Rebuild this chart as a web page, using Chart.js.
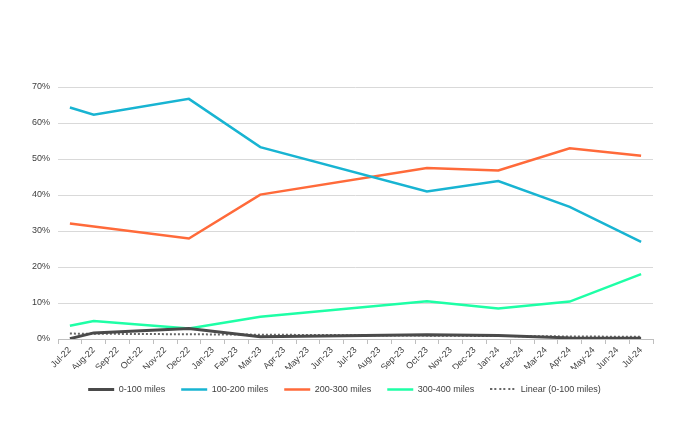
<!DOCTYPE html>
<html>
<head>
<meta charset="utf-8">
<script src="https://cdn.jsdelivr.net/npm/chart.js@4"></script>
<style>
  html, body { margin: 0; padding: 0; background: #ffffff; }
  #wrap { width: 686px; height: 435px; position: relative; }
</style>
</head>
<body>
<div id="wrap"><canvas id="c" width="686" height="435"></canvas></div>
<script>
const months = ["Jul-22","Aug-22","Sep-22","Oct-22","Nov-22","Dec-22","Jan-23","Feb-23","Mar-23","Apr-23","May-23","Jun-23","Jul-23","Aug-23","Sep-23","Oct-23","Nov-23","Dec-23","Jan-24","Feb-24","Mar-24","Apr-24","May-24","Jun-24","Jul-24"];
const miles0to100   = [0.1, 1.7, null, null, null, 2.9, null, null, 0.6, null, null, null, null, null, null, 1.2, null, null, 1.0, null, null, 0.3, null, null, 0.2];
const miles100to200 = [64.3, 62.3, null, null, null, 66.7, null, null, 53.3, null, null, null, null, null, null, 41.0, null, null, 43.9, null, null, 36.7, null, null, 27.0];
const miles200to300 = [32.1, null, null, null, null, 27.9, null, null, 40.1, null, null, null, null, null, null, 47.5, null, null, 46.8, null, null, 53.0, null, null, 50.9];
const miles300to400 = [3.7, 5.0, null, null, null, 2.9, null, null, 6.2, null, null, null, null, null, null, 10.5, null, null, 8.5, null, null, 10.4, null, null, 18.0];
const linear0to100  = [1.5, null, null, null, null, null, null, null, null, null, null, null, null, null, null, null, null, null, null, null, null, null, null, null, 0.6];
const yTicks = [0, 10, 20, 30, 40, 50, 60, 70];

const font = { family: "'Liberation Sans', Arial, sans-serif", size: 9 };

function ds(label, data, color, width, dash) {
  return {
    label: label,
    data: data,
    borderColor: color,
    backgroundColor: color,
    borderWidth: width,
    borderDash: dash || [],
    borderCapStyle: 'butt',
    pointRadius: 0,
    pointHoverRadius: 0,
    spanGaps: true,
    tension: 0,
    fill: false
  };
}

// dotted legend symbol for the trendline
const dotted = document.createElement('canvas');
dotted.width = 26; dotted.height = 3;
(function () {
  const g = dotted.getContext('2d');
  g.fillStyle = '#666666';
  for (let x = 0; x < 26; x += 4.4) g.fillRect(Math.round(x), 0, 2, 2);
})();

const shiftLegend = {
  id: 'shiftLegend',
  afterLayout(chart) {
    if (chart.legend) { chart.legend.left += 18; chart.legend.right += 18; }
  }
};

new Chart(document.getElementById('c'), {
  type: 'line',
  data: {
    labels: months,
    datasets: [
      ds('0-100 miles', miles0to100, '#4a4a4a', 3),
      ds('100-200 miles', miles100to200, '#18b4d2', 2.5),
      ds('200-300 miles', miles200to300, '#ff6a3a', 2.5),
      ds('300-400 miles', miles300to400, '#1effa6', 2.5),
      ds('Linear (0-100 miles)', linear0to100, '#666666', 2, [2, 2])
    ]
  },
  plugins: [shiftLegend],
  options: {
    responsive: false,
    animation: false,
    layout: { padding: { top: 87, left: 0, right: 33, bottom: 31 } },
    plugins: {
      legend: {
        position: 'bottom',
        labels: {
          usePointStyle: true,
          pointStyle: 'line',
          pointStyleWidth: 26,
          boxHeight: 9,
          padding: 16,
          color: '#404040',
          font: font,
          generateLabels(chart) {
            const items = Chart.defaults.plugins.legend.labels.generateLabels(chart);
            items.forEach(it => {
              if (it.text.indexOf('Linear') === 0) it.pointStyle = dotted;
            });
            return items;
          }
        }
      },
      tooltip: { enabled: false }
    },
    scales: {
      x: {
        offset: true,
        grid: {
          display: true,
          offset: true,
          drawOnChartArea: false,
          drawTicks: true,
          tickLength: 5,
          color: '#bfbfbf'
        },
        border: { display: true, color: '#bfbfbf' },
        ticks: {
          autoSkip: false,
          maxRotation: 45,
          minRotation: 45,
          color: '#404040',
          font: font,
          padding: 1
        },
        afterFit: function(s) { s.height = 30; }
      },
      y: {
        min: 0,
        max: 70,
        afterBuildTicks: function(s) { s.ticks = yTicks.map(v => ({ value: v })); },
        grid: { color: '#d9d9d9', drawTicks: false, lineWidth: 1 },
        border: { display: false },
        ticks: {
          color: '#404040',
          font: font,
          padding: 8,
          callback: function(v) { return v + '%'; }
        },
        afterFit: function(s) { s.width = 58; }
      }
    }
  }
});
</script>
</body>
</html>
